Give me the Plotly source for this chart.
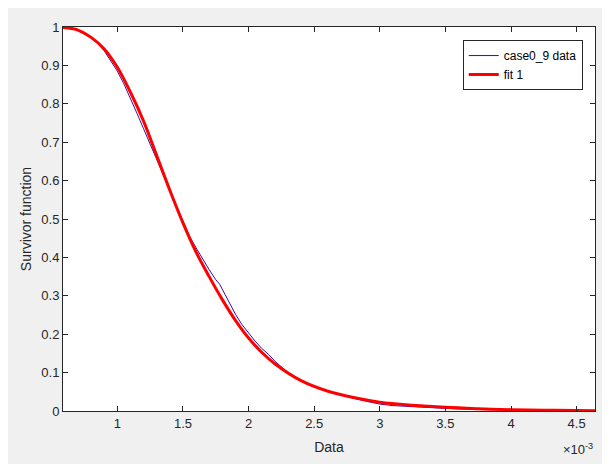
import numpy as np
import plotly.graph_objects as go

# Empirical survivor function (x in units of 1e-3)
data_x = [0.586, 0.62, 0.66, 0.70, 0.75, 0.80, 0.85, 0.90, 0.95, 1.00, 1.05, 1.10, 1.15, 1.20,
          1.25, 1.30, 1.35, 1.40, 1.45, 1.50, 1.55, 1.60, 1.65, 1.70, 1.75, 1.78, 1.82, 1.86,
          1.90, 1.95, 2.00, 2.05, 2.10, 2.15, 2.20, 2.25, 2.30, 2.40, 2.50, 2.60, 2.70, 2.80,
          2.90, 3.00, 3.10, 3.20, 3.30, 3.40, 3.50, 3.60, 3.75, 3.90, 4.00, 4.20, 4.40, 4.64]
data_y = [1.0, 0.999, 0.997, 0.993, 0.985, 0.972, 0.957, 0.938, 0.912, 0.885, 0.852, 0.815, 0.775, 0.735,
          0.695, 0.652, 0.615, 0.572, 0.535, 0.493, 0.455, 0.425, 0.396, 0.368, 0.342, 0.330, 0.304, 0.276,
          0.252, 0.225, 0.203, 0.182, 0.163, 0.148, 0.130, 0.115, 0.100, 0.080, 0.064, 0.051, 0.041, 0.033,
          0.025, 0.018, 0.014, 0.012, 0.010, 0.008, 0.006, 0.005, 0.004, 0.003, 0.002, 0.001, 0.0005, 0.0]

# Fitted survivor curve
fit_x = [0.586, 0.65, 0.70, 0.80, 0.90, 1.00, 1.10, 1.20, 1.30, 1.40, 1.50, 1.60, 1.70, 1.80,
         1.90, 2.00, 2.10, 2.20, 2.40, 2.60, 2.80, 3.00, 3.25, 3.50, 3.75, 4.00, 4.25, 4.50, 4.64]
fit_y = [0.999, 0.996, 0.992, 0.973, 0.943, 0.895, 0.830, 0.755, 0.665, 0.575, 0.490, 0.414, 0.350, 0.290,
         0.236, 0.190, 0.153, 0.123, 0.079, 0.052, 0.035, 0.023, 0.015, 0.0095, 0.006, 0.0035, 0.002, 0.0012, 0.0009]

x_ticks = [1, 1.5, 2, 2.5, 3, 3.5, 4, 4.5]
x_tick_labels = ["1", "1.5", "2", "2.5", "3", "3.5", "4", "4.5"]
y_ticks = [0, 0.1, 0.2, 0.3, 0.4, 0.5, 0.6, 0.7, 0.8, 0.9, 1]
y_tick_labels = ["0", "0.1", "0.2", "0.3", "0.4", "0.5", "0.6", "0.7", "0.8", "0.9", "1"]

scale = 1e-3
fig = go.Figure()
fig.add_trace(go.Scatter(x=np.array(data_x) * scale, y=data_y, mode="lines",
                         name="case0_9 data", line=dict(color="#3a0aa0", width=1)))
fig.add_trace(go.Scatter(x=np.array(fit_x) * scale, y=fit_y, mode="lines",
                         name="fit 1", line=dict(color="#ff0000", width=3, shape="spline")))

axis_col = "#262626"
font = "Liberation Sans, Arial, sans-serif"
fig.update_layout(
    width=602, height=456,
    margin=dict(l=55, r=15, t=17, b=52),
    paper_bgcolor="#f0f0f0", plot_bgcolor="white",
    font=dict(family=font, size=13, color=axis_col),
    showlegend=True,
    legend=dict(x=0.977, y=0.966, xanchor="right", yanchor="top",
                bgcolor="white", bordercolor=axis_col, borderwidth=1,
                font=dict(size=12, color="black"), tracegroupgap=0,
                itemwidth=30),
    xaxis=dict(range=[0.586e-3, 4.64e-3], tickvals=np.array(x_ticks) * scale,
               ticktext=x_tick_labels, ticks="inside", ticklen=5, tickcolor=axis_col,
               showline=True, linecolor=axis_col, linewidth=1, mirror="allticks",
               showgrid=False, zeroline=False,
               title=dict(text="Data", font=dict(size=14), standoff=12)),
    yaxis=dict(range=[0, 1], tickvals=y_ticks, ticktext=y_tick_labels,
               ticks="inside", ticklen=5, tickcolor=axis_col,
               showline=True, linecolor=axis_col, linewidth=1, mirror="allticks",
               showgrid=False, zeroline=False,
               title=dict(text="Survivor function", font=dict(size=14), standoff=6)),
    annotations=[dict(text="×10<sup>-3</sup>", xref="paper", yref="paper",
                      x=1.0, y=-0.098, xanchor="right", yanchor="middle",
                      showarrow=False, font=dict(size=13, color=axis_col))],
)
fig.write_html("out.html")
